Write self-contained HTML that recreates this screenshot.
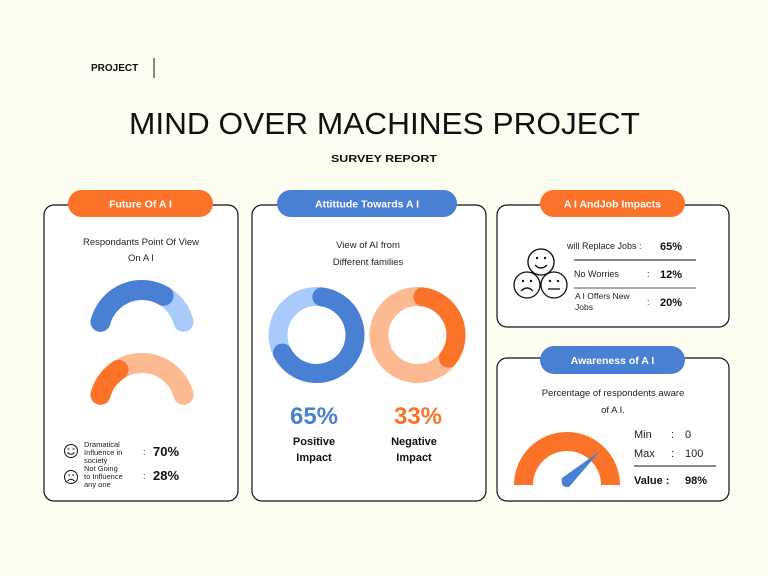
<!DOCTYPE html>
<html><head><meta charset="utf-8"><style>
html,body{margin:0;padding:0;background:#fefdf1;}
svg{display:block;font-family:"Liberation Sans",sans-serif;}
</style></head><body>
<svg width="768" height="576" viewBox="0 0 768 576" xmlns="http://www.w3.org/2000/svg">
<rect width="768" height="576" fill="#fefdf1"/>
<text x="91" y="71" font-size="10" font-weight="bold" fill="#111">PROJECT</text>
<line x1="154" y1="58" x2="154" y2="78" stroke="#111" stroke-width="1"/>
<text x="129" y="134" font-size="31" fill="#111" textLength="511" lengthAdjust="spacingAndGlyphs">MIND OVER MACHINES PROJECT</text>
<text x="384" y="162" font-size="10" font-weight="bold" fill="#111" text-anchor="middle" textLength="106" lengthAdjust="spacingAndGlyphs">SURVEY REPORT</text>

<!-- cards -->
<rect x="44" y="205" width="194" height="296" rx="10" fill="#fff" stroke="#111" stroke-width="1.2"/>
<rect x="252" y="205" width="234" height="296" rx="10" fill="#fff" stroke="#111" stroke-width="1.2"/>
<rect x="497" y="205" width="232" height="122" rx="10" fill="#fff" stroke="#111" stroke-width="1.2"/>
<rect x="497" y="358" width="232" height="143" rx="10" fill="#fff" stroke="#111" stroke-width="1.2"/>

<!-- pills -->
<rect x="68" y="190" width="145" height="27" rx="13.5" fill="#fb7328"/>
<text x="140.5" y="207.5" font-size="10.5" font-weight="bold" fill="#fff" text-anchor="middle">Future Of A I</text>
<rect x="277" y="190" width="180" height="27" rx="13.5" fill="#4a80d4"/>
<text x="367" y="207.5" font-size="10.5" font-weight="bold" fill="#fff" text-anchor="middle">Attittude Towards A I</text>
<rect x="540" y="190" width="145" height="27" rx="13.5" fill="#fb7328"/>
<text x="612.5" y="207.5" font-size="10.5" font-weight="bold" fill="#fff" text-anchor="middle">A I AndJob Impacts</text>
<rect x="540" y="346" width="145" height="28" rx="14" fill="#4a80d4"/>
<text x="612.5" y="364" font-size="10.5" font-weight="bold" fill="#fff" text-anchor="middle">Awareness of A I</text>

<!-- card1 texts -->
<text x="141" y="245" font-size="9.5" fill="#222" text-anchor="middle">Respondants Point Of View</text>
<text x="141" y="261" font-size="9.5" fill="#222" text-anchor="middle">On A I</text>
<g id="halfarcs"></g>

<g>
<circle cx="71" cy="451" r="6.5" fill="none" stroke="#111" stroke-width="1"/>
<path d="M67.5 452.5 Q71 456 74.5 452.5" fill="none" stroke="#111" stroke-width="1"/>
<path d="M67.5 449 h2 M72.5 449 h2" stroke="#111" stroke-width="1"/>
<text x="84" y="447" font-size="7.5" fill="#222">Dramatical</text>
<text x="84" y="455" font-size="7.5" fill="#222">Influence in</text>
<text x="84" y="463" font-size="7.5" fill="#222">society</text>
<text x="143" y="455" font-size="9" fill="#222">:</text>
<text x="153" y="456" font-size="13" font-weight="bold" fill="#111" id="lbl0">70%</text>
</g>
<g>
<circle cx="71" cy="477" r="6.5" fill="none" stroke="#111" stroke-width="1"/>
<path d="M67.5 481 Q71 477.5 74.5 481" fill="none" stroke="#111" stroke-width="1"/>
<circle cx="69" cy="475" r="0.8" fill="#111"/><circle cx="73" cy="475" r="0.8" fill="#111"/>
<text x="84" y="471" font-size="7.5" fill="#222">Not Going</text>
<text x="84" y="479" font-size="7.5" fill="#222">to Influence</text>
<text x="84" y="487" font-size="7.5" fill="#222">any one</text>
<text x="143" y="479" font-size="9" fill="#222">:</text>
<text x="153" y="480" font-size="13" font-weight="bold" fill="#111" id="lbl1">28%</text>
</g>

<!-- card2 -->
<text x="368" y="248" font-size="9.5" fill="#222" text-anchor="middle">View of AI from</text>
<text x="368" y="265" font-size="9.5" fill="#222" text-anchor="middle">Different families</text>
<g id="donuts"></g>
<text x="314" y="424" font-size="24" font-weight="bold" fill="#4a80d4" text-anchor="middle" id="dval0">65%</text>
<text x="418" y="424" font-size="24" font-weight="bold" fill="#fb7328" text-anchor="middle" id="dval1">33%</text>
<text x="314" y="445" font-size="11" font-weight="bold" fill="#111" text-anchor="middle">Positive</text>
<text x="314" y="461" font-size="11" font-weight="bold" fill="#111" text-anchor="middle">Impact</text>
<text x="414" y="445" font-size="11" font-weight="bold" fill="#111" text-anchor="middle">Negative</text>
<text x="414" y="461" font-size="11" font-weight="bold" fill="#111" text-anchor="middle">Impact</text>

<!-- card3 -->
<g fill="#fff" stroke="#111" stroke-width="1.3">
<circle cx="541" cy="262" r="13"/>
<circle cx="527" cy="285" r="13"/>
<circle cx="554" cy="285" r="13"/>
<circle cx="541" cy="262" r="13"/>
<path d="M535 265 Q541 271 547 265" fill="none"/>
<path d="M521 291 Q527 285 533 291" fill="none"/>
<path d="M548 289 h12" fill="none"/>
</g>
<g fill="#111" stroke="none">
<circle cx="537" cy="258" r="1.2"/><circle cx="545" cy="258" r="1.2"/>
<circle cx="523" cy="281" r="1.2"/><circle cx="531" cy="281" r="1.2"/>
<circle cx="550" cy="281" r="1.2"/><circle cx="558" cy="281" r="1.2"/>
</g>
<text x="567" y="249" font-size="9" fill="#222">will Replace Jobs :</text>
<text x="660" y="250" font-size="11" font-weight="bold" fill="#111">65%</text>
<line x1="574" y1="260" x2="696" y2="260" stroke="#111" stroke-width="1"/>
<text x="574" y="277" font-size="9" fill="#222">No Worries</text>
<text x="647" y="277" font-size="9" fill="#222">:</text>
<text x="660" y="278" font-size="11" font-weight="bold" fill="#111">12%</text>
<line x1="574" y1="288" x2="696" y2="288" stroke="#555" stroke-width="1"/>
<text x="575" y="299" font-size="8.5" fill="#222">A I Offers New</text>
<text x="575" y="310" font-size="8.5" fill="#222">Jobs</text>
<text x="647" y="305" font-size="9" fill="#222">:</text>
<text x="660" y="306" font-size="11" font-weight="bold" fill="#111">20%</text>

<!-- card4 -->
<text x="613" y="396" font-size="9.5" fill="#222" text-anchor="middle">Percentage of respondents aware</text>
<text x="613" y="413" font-size="9.5" fill="#222" text-anchor="middle">of A I.</text>
<path d="M514 485 A53 53 0 0 1 620 485 L601 485 A34 34 0 0 0 533 485 Z" fill="#fb7328"/>
<path d="M562 478 L600 451 L569 487 Q560 488 562 478 Z" fill="#4a80d4"/>
<text x="634" y="438" font-size="11" fill="#222">Min</text>
<text x="671" y="438" font-size="11" fill="#222">:</text>
<text x="685" y="438" font-size="11" fill="#222">0</text>
<text x="634" y="457" font-size="11" fill="#222">Max</text>
<text x="671" y="457" font-size="11" fill="#222">:</text>
<text x="685" y="457" font-size="11" fill="#222">100</text>
<line x1="634" y1="466" x2="716" y2="466" stroke="#111" stroke-width="1"/>
<text x="634" y="484" font-size="11" font-weight="bold" fill="#111">Value :</text>
<text x="685" y="484" font-size="11" font-weight="bold" fill="#111">98%</text>
</svg>
<script>
const arcCategories = ["Dramatical Influence", "Not Going to Influence"];
const arcValues = [70, 28];
const donutCategories = ["Positive Impact", "Negative Impact"];
const donutValues = [65, 33];

const NS = "http://www.w3.org/2000/svg";
function pt(cx, cy, r, deg){ const a = deg*Math.PI/180; return [cx + r*Math.cos(a), cy - r*Math.sin(a)]; }
function arcPath(cx, cy, r, a0, a1){ // standard angles, a0 > a1 means clockwise
  const p0 = pt(cx,cy,r,a0), p1 = pt(cx,cy,r,a1);
  const large = Math.abs(a0-a1) > 180 ? 1 : 0;
  const sweep = a0 > a1 ? 1 : 0;
  return `M${p0[0]} ${p0[1]} A${r} ${r} 0 ${large} ${sweep} ${p1[0]} ${p1[1]}`;
}
function mk(parent, d, color, w){
  const p = document.createElementNS(NS, "path");
  p.setAttribute("d", d); p.setAttribute("fill", "none");
  p.setAttribute("stroke", color); p.setAttribute("stroke-width", w);
  p.setAttribute("stroke-linecap", "round");
  parent.appendChild(p); return p;
}
// half arcs: span 165deg -> 15deg
const ha = document.getElementById("halfarcs");
const arcCfg = [{cy:333, fg:"#4a80d4", bg:"#a8cbfa"}, {cy:406, fg:"#fb7328", bg:"#fdb992"}];
const START = 165, END = 15;
arcValues.forEach((v,i)=>{
  const c = arcCfg[i];
  const bg = mk(ha, arcPath(142, c.cy, 43, START, END), c.bg, 20);
  
  
  const fgEnd = START - (START-END)*v/100;
  const fg = mk(ha, arcPath(142, c.cy, 43, START, fgEnd), c.fg, 20);
  
  
});
// donuts
const dg = document.getElementById("donuts");
const donutCfg = [{cx:316.5, fg:"#4a80d4", bg:"#a8cbfa"}, {cx:417.5, fg:"#fb7328", bg:"#fdb992"}];
donutValues.forEach((v,i)=>{
  const c = donutCfg[i];
  const ring = document.createElementNS(NS, "circle");
  ring.setAttribute("cx", c.cx); ring.setAttribute("cy", 335); ring.setAttribute("r", 38.5);
  ring.setAttribute("fill", "none"); ring.setAttribute("stroke", c.bg); ring.setAttribute("stroke-width", 19);
  
  
  dg.appendChild(ring);
  const a0 = 82, a1 = 82 - 360*v/100;
  const seg = mk(dg, arcPath(c.cx, 335, 38.5, a0, a1), c.fg, 19);
  
  
  document.getElementById("dval"+i).textContent = v + "%";
});
document.getElementById("lbl0").textContent = arcValues[0] + "%";
document.getElementById("lbl1").textContent = arcValues[1] + "%";
</script>
</body></html>
